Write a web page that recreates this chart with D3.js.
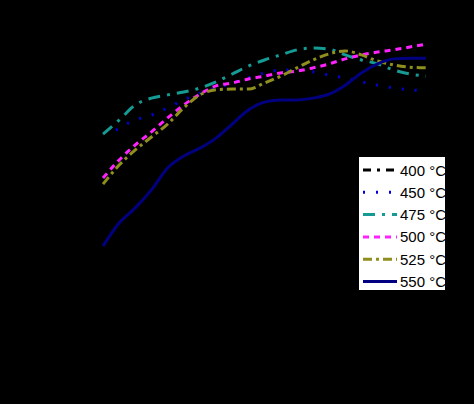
<!DOCTYPE html>
<html><head><meta charset="utf-8">
<script src="https://cdn.jsdelivr.net/npm/d3@7"></script>
<style>body{margin:0;background:#000}</style>
</head><body>
<svg id="chart" width="474" height="404"></svg>
<script>
// data (x in % of run, y in arbitrary units)
var xs = [0,5,10,15,20,25,30,35,40,45,50,55,60,65,70,75,80,85,90,95,100];
var xs450 = [4,5,10,15,20,25,30,35,40,45,50,55,60,65,70,75,80,85,90,95,100];
var y400 = [70,71,73,74,76,78,80,81,82,83,84,85,85,85,84,83,82,81,80,80,80];
var y450 = [69.4,70,72.2,73.6,75.6,77.8,79.7,81.1,82.5,83.9,85.3,86.1,86.1,85.6,84.7,83.9,82.8,81.9,81.1,80.6,80.3];
var y475 = [68.3,72.2,76.4,78.3,79.2,80,81.1,82.8,85,87.2,88.9,90.3,91.7,92.2,91.9,90.3,88.9,87.8,86.1,85,84.4];
var y500 = [56.1,61.1,65.3,68.9,72.8,76.4,79.4,81.7,82.5,83.6,84.4,85.3,85.8,86.7,87.8,89.2,90.3,91.1,91.7,92.5,93.3];
var y525 = [54.4,59.7,63.9,67.5,71.1,75.6,79.2,80.6,80.8,80.8,82.5,84.4,86.7,88.9,90.6,91.4,90.3,88.6,87.5,86.9,86.7];
var y550 = [37.2,43.6,47.8,52.8,58.9,62.2,64.4,67.2,71.1,75,77.2,77.8,77.8,78.3,79.4,81.9,85.3,87.8,89.2,89.4,89.4];
var labels = ["400 °C","450 °C","475 °C","500 °C","525 °C","550 °C"];

var series = [
	{ name: labels[0], x: xs, y: y400, color: "#000000", dash: "8,6,3,6" },
	{ name: labels[1], x: xs450, y: y450, color: "#0000dd", dash: "2,11" },
	{ name: labels[2], x: xs, y: y475, color: "#169b94", dash: "12,7,3,7" },
	{ name: labels[3], x: xs, y: y500, color: "#ff22ff", dash: "6,5" },
	{ name: labels[4], x: xs, y: y525, color: "#8f8f1e", dash: "9,4,3,4" },
	{ name: labels[5], x: xs, y: y550, color: "#000080", dash: null }
];

var svg = d3.select("#chart");
svg.append("rect").attr("width", 474).attr("height", 404).attr("fill", "#000");

var x = d3.scaleLinear().domain([0, 100]).range([103, 426]);
var y = d3.scaleLinear().domain([0, 100]).range([380, 20]);

// axes are black like the background in the reference
svg.append("g").attr("transform", "translate(0,380)").call(d3.axisBottom(x)).attr("color", "#000");
svg.append("g").attr("transform", "translate(103,0)").call(d3.axisLeft(y)).attr("color", "#000");

var line = d3.line().curve(d3.curveMonotoneX)
	.x(function(d) { return x(d[0]); })
	.y(function(d) { return y(d[1]); });

series.forEach(function(s) {
	svg.append("path")
		.datum(s.x.map(function(v, i) { return [v, s.y[i]]; }))
		.attr("d", line)
		.attr("fill", "none")
		.attr("stroke", s.color)
		.attr("stroke-width", 3)
		.attr("stroke-dasharray", s.dash);
});

// legend
var lg = svg.append("g").attr("transform", "translate(359,157)");
lg.append("rect").attr("width", 86).attr("height", 133).attr("fill", "#fff");
series.forEach(function(s, i) {
	var yy = 13 + i * 22.3;
	lg.append("line").attr("x1", 4).attr("x2", 38).attr("y1", yy).attr("y2", yy)
		.attr("stroke", s.color).attr("stroke-width", 3).attr("stroke-dasharray", s.dash);
	lg.append("text").attr("x", 41).attr("y", yy + 5.5).text(s.name)
		.attr("font-family", "Liberation Sans, Arial").attr("font-size", 15).attr("fill", "#000");
});
</script>
</body></html>
